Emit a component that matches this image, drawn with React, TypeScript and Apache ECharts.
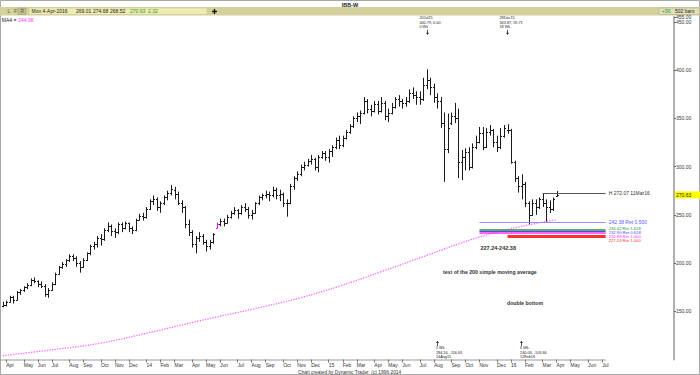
import React, { useEffect, useRef } from "react";
import * as echarts from "echarts";

const START_UTC = Date.UTC(2013, 2, 25);
const WEEK_COUNT = 192;
const LAST_LABEL_WEEK = 171;
const MONTHS = ["Jan", "Feb", "Mar", "Apr", "May", "Jun", "Jul", "Aug", "Sep", "Oct", "Nov", "Dec"];

// weekly [open, high, low, close]
const bars2013 = [
  [155, 160, 154, 157], [157, 161, 155, 160], [160, 166, 159, 165], [165, 166, 158, 162], [162, 171, 161, 170],
  [170, 173, 167, 172], [172, 176, 170, 175], [175, 179, 173, 177], [177, 184, 176, 182], [182, 185, 179, 181],
  [181, 182, 175, 178], [178, 181, 174, 176], [176, 178, 165, 168], [168, 174, 164, 172], [172, 180, 171, 178],
  [178, 190, 177, 189], [189, 197, 188, 196], [196, 201, 194, 199], [199, 204, 196, 203], [203, 209, 201, 207],
  [207, 209, 202, 205], [205, 207, 196, 200], [200, 202, 190, 196], [196, 205, 195, 203], [203, 211, 202, 210],
  [210, 219, 208, 218], [218, 222, 214, 220], [220, 228, 216, 226], [226, 230, 218, 225], [225, 236, 223, 234],
  [234, 242, 232, 238], [238, 240, 228, 233], [233, 236, 226, 232], [232, 242, 230, 240], [240, 242, 232, 236],
  [236, 243, 235, 241], [241, 242, 232, 236], [236, 238, 230, 234], [234, 246, 233, 245], [245, 251, 244, 249],
  [249, 252, 244, 248],
];
const bars2014 = [
  [248, 258, 246, 256], [256, 266, 255, 264], [264, 270, 260, 266], [266, 268, 254, 258], [258, 264, 252, 262],
  [262, 270, 260, 268], [268, 275, 265, 273], [273, 281, 270, 277], [276, 279, 266, 272], [272, 274, 260, 262],
  [262, 265, 252, 258], [258, 259, 236, 240], [240, 245, 228, 232], [232, 234, 216, 220], [220, 228, 210, 226],
  [226, 232, 222, 228], [228, 230, 219, 222], [222, 224, 212, 218], [218, 224, 214, 222], [222, 231, 220, 230],
  [236, 242, 236, 240], [240, 246, 238, 244], [244, 246, 238, 242], [242, 250, 241, 248], [248, 254, 246, 252],
  [252, 258, 250, 255], [255, 256, 246, 252], [252, 260, 250, 258], [258, 262, 253, 256], [256, 258, 246, 250],
  [250, 255, 245, 252], [252, 263, 251, 262], [262, 270, 260, 268], [268, 272, 265, 270], [270, 275, 267, 272],
  [272, 274, 264, 270], [270, 279, 268, 276], [276, 278, 266, 270], [270, 276, 264, 272], [272, 273, 258, 262],
  [262, 266, 248, 262], [262, 282, 261, 280], [280, 290, 276, 288], [288, 295, 285, 292], [292, 302, 290, 300],
  [300, 305, 296, 302], [302, 308, 300, 306], [306, 312, 302, 308], [308, 309, 296, 300], [300, 312, 294, 310],
  [310, 316, 308, 314], [314, 316, 306, 310],
];
const bars2015 = [
  [310, 318, 304, 316], [316, 322, 310, 320], [320, 330, 318, 328], [328, 332, 318, 322], [322, 332, 320, 330],
  [330, 338, 328, 336], [336, 344, 334, 342], [342, 352, 340, 350], [350, 356, 346, 352], [352, 358, 344, 355],
  [355, 372, 354, 368], [368, 370, 355, 360], [360, 364, 352, 358], [358, 368, 356, 365], [365, 368, 354, 358],
  [358, 372, 356, 366], [366, 368, 348, 352], [352, 360, 346, 356], [356, 366, 354, 362], [362, 372, 360, 370],
  [370, 374, 362, 368], [368, 370, 360, 366], [366, 372, 362, 368], [368, 380, 366, 376], [376, 382, 370, 374],
  [374, 378, 364, 372], [372, 378, 364, 370], [370, 392, 368, 385], [385, 400.79, 380, 390], [390, 392, 374, 382],
  [382, 386, 366, 372], [372, 376, 360, 368], [368, 372, 340, 345], [345, 356, 284.16, 318], [318, 355, 314, 340],
  [345, 356, 343, 352], [352, 366, 345, 350], [350, 360, 288, 305], [305, 317, 286, 310], [310, 319, 296, 315],
  [315, 320, 296, 300], [300, 324, 298, 320], [320, 332, 318, 325], [325, 341, 324, 335], [335, 341, 317, 320],
  [320, 340, 319, 336], [336, 343, 332, 338], [338, 339, 320, 325], [325, 332, 315, 320], [320, 340, 318, 332],
  [332, 343, 330, 340], [338, 343.87, 334, 338],
];
const bars2016 = [
  [338, 339, 303, 305], [305, 306, 284, 288], [288, 290, 273, 280], [280, 292, 266, 282], [282, 284, 258, 262],
  [262, 264, 240.03, 250], [250, 266, 249, 262], [262, 266, 250, 258], [258, 268, 256, 266], [266, 272.07, 258, 262],
  [262, 266, 243, 258], [258, 265, 252, 256], [256, 268, 254, 266], [269.01, 274.68, 268.52, 270.63],
];
const highlightWeek = 61;

// 200-period moving average readings [week index, value]
const maWeeks = [0, 14, 28, 42, 56, 71, 85, 96, 108, 121, 136, 148, 158];
const maValues = [104, 110, 117, 128, 140, 152, 164, 176, 191, 208, 227, 238, 244.96];

// horizontal levels
const levelPrices = [242.38, 234.42, 232.9, 230.88, 227.24];
const levelTexts = ["242.38 Ret 0.500", "234.42 Ret 1.618", "232.90 Ret 0.618", "230.88 Rtn 1.000", "227.24 Rtn 1.000"];
const levelColors = ["#8f8fff", "#2f8f2f", "#4a4aff", "#ff33ff", "#ff3030"];
const levelTextColors = ["#5a5aff", "#2f8f2f", "#4a4aff", "#ff33ff", "#ff3030"];
const levelWidths = [1, 1.5, 1, 1.5, 3];
const levelStart = [136, 136, 136, 136, 144];
const levelEnd = 172;
const highPrice = 272.07;
const highWeek = 154;

const FONT = "'Liberation Sans', Arial, sans-serif";

function weekDates(): string[] {
  const out: string[] = [];
  for (let i = 0; i < WEEK_COUNT; i++) {
    out.push(new Date(START_UTC + i * 7 * 86400000).toISOString().slice(0, 10));
  }
  return out;
}

export default function App() {
  const ref = useRef<HTMLDivElement>(null);
  useEffect(() => {
    const el = ref.current!;
    const chart = echarts.init(el, null, { renderer: "svg" });
    const dates = weekDates();
    const all = [...bars2013, ...bars2014, ...bars2015, ...bars2016];
    const bars = all.map((b, i) => [i, b[0], b[1], b[2], b[3], i === highlightWeek ? 1 : 0]);
    const last = all[all.length - 1];
    const isLabel = (index: number, value: string) => index <= LAST_LABEL_WEEK && +value.slice(8, 10) <= 7;

    const levelLines: any[] = levelPrices.map((p, k) => [
      {
        coord: [levelStart[k], p],
        lineStyle: { color: levelColors[k], width: levelWidths[k], type: "solid" },
        label: k === 0
          ? { show: true, position: "end", distance: 3, formatter: levelTexts[k], color: levelTextColors[k], fontSize: 5, fontFamily: FONT }
          : { show: false },
      },
      { coord: [levelEnd, p] },
    ]);
    levelLines.push([
      {
        coord: [highWeek, highPrice],
        lineStyle: { color: "#555", width: 1, type: "solid" },
        label: { show: true, position: "end", distance: 3, formatter: "H 272.07 11Mar16", color: "#333", fontSize: 5, fontFamily: FONT },
      },
      { coord: [levelEnd, highPrice] },
    ]);

    chart.setOption({
      animation: false,
      backgroundColor: "#fff",
      grid: { left: 1, right: 26, top: 17, bottom: 15.5 },
      xAxis: {
        type: "category",
        data: dates,
        boundaryGap: true,
        axisLine: { show: false },
        axisTick: { show: true, interval: isLabel, alignWithLabel: true, length: 3, lineStyle: { color: "#777" } },
        axisLabel: {
          interval: isLabel,
          formatter: (v: string) => (v.slice(5, 7) === "01" ? v.slice(2, 4) : MONTHS[+v.slice(5, 7) - 1]),
          fontSize: 5,
          fontFamily: FONT,
          color: "#333",
          align: "left",
          margin: 3,
        },
        splitLine: { show: false },
      },
      yAxis: {
        type: "value",
        position: "right",
        min: 100,
        max: 455,
        interval: 50,
        axisLine: { show: true, lineStyle: { color: "#b0b0b0", width: 2 } },
        axisTick: { show: true, length: 2, lineStyle: { color: "#666" } },
        axisLabel: { showMinLabel: false, fontSize: 5, fontFamily: FONT, color: "#333", margin: 2, formatter: (v: number) => v.toFixed(2) },
        splitLine: { show: false },
      },
      series: [
        {
          type: "line",
          data: maWeeks.map((w, k) => [w, maValues[k]]),
          showSymbol: false,
          smooth: 0.4,
          lineStyle: { color: "#ff66ff", width: 1.3, type: [1.3, 1.3] },
          z: 1,
          markLine: { silent: true, symbol: ["none", "none"], data: levelLines },
        },
        {
          type: "custom",
          z: 3,
          data: bars,
          encode: { x: 0, y: [1, 2, 3, 4] },
          renderItem: (params: any, api: any) => {
            const i = api.value(0);
            const h = api.coord([i, api.value(2)]);
            const l = api.coord([i, api.value(3)]);
            const o = api.coord([i, api.value(1)]);
            const c = api.coord([i, api.value(4)]);
            const x = Math.round(h[0]) + 0.5;
            const color = api.value(5) ? "#ff00ff" : "#1a1a1a";
            const st = { stroke: color, lineWidth: 1 };
            return {
              type: "group",
              children: [
                { type: "line", shape: { x1: x, y1: h[1], x2: x, y2: l[1] }, style: st },
                { type: "line", shape: { x1: x - 1.5, y1: Math.round(o[1]) + 0.5, x2: x, y2: Math.round(o[1]) + 0.5 }, style: st },
                { type: "line", shape: { x1: x, y1: Math.round(c[1]) + 0.5, x2: x + 1.5, y2: Math.round(c[1]) + 0.5 }, style: st },
              ],
            };
          },
        },
      ],
    });

    const px = (i: number, v: number) => chart.convertToPixel({ gridIndex: 0 }, [i, v]) as number[];
    const t = (x: number, y: number, text: string, extra: any = {}) => ({
      type: "text",
      x,
      y,
      silent: true,
      style: { text, fontSize: 5, fontFamily: FONT, fill: "#222", ...extra },
    });
    const arrow = (x: number, yTail: number, yHead: number) => {
      const ax = Math.round(x) + 0.5;
      const dir = yHead > yTail ? 1 : -1;
      return [
        { type: "line", silent: true, shape: { x1: ax, y1: yTail, x2: ax, y2: yHead - dir * 1.5 }, style: { stroke: "#333", lineWidth: 0.8 } },
        { type: "polygon", silent: true, shape: { points: [[ax - 1.6, yHead - dir * 2.2], [ax + 1.6, yHead - dir * 2.2], [ax, yHead]] }, style: { fill: "#333" } },
      ];
    };

    const base = px(0, 100);
    const endAxis = px(LAST_LABEL_WEEK + 0.5, 100);
    const peak = px(121, 400.79);
    const top2 = px(144, 343.87);
    const low1 = px(126, 284.16);
    const low2 = px(150, 240.03);
    const lastY = px(158, last[3])[1];
    const band = px(136, 242.38);

    // the four tightly packed level labels, stacked so they stay legible
    const packedTop = px(levelEnd, levelPrices[1])[1] - 3.5;
    const levelLabelEls = [1, 2, 3, 4].map((k, n) =>
      t(px(levelEnd, levelPrices[k])[0] + 3, packedTop + n * 4.1, levelTexts[k], { fontSize: 4.2, fill: levelTextColors[k] })
    );
    const noteStyle = { fontSize: 3.8, lineHeight: 4.3 };

    const g: any[] = [
      { type: "rect", shape: { x: 0.5, y: 0.5, width: 699, height: 374 }, style: { fill: "none", stroke: "#a8a8a8", lineWidth: 1 }, silent: true },
      t(350, 1.5, "IBB-W", { textAlign: "center", fontWeight: "bold", fontSize: 5.5 }),
      { type: "rect", shape: { x: 0, y: 7, width: 700, height: 8.5 }, style: { fill: "#d4d19c" }, silent: true },
      { type: "rect", shape: { x: 18, y: 8, width: 8, height: 6.5 }, style: { fill: "#c4c08a", stroke: "#9a9670", lineWidth: 0.5 }, silent: true },
      t(7.5, 8.8, "L", { fill: "#5a5a3a" }),
      t(14, 8.8, "F", { fill: "#5a5a3a" }),
      t(20.5, 8.8, "R", { fill: "#5a5a3a" }),
      { type: "rect", shape: { x: 29, y: 8, width: 178, height: 6.5 }, style: { fill: "#efebb4", stroke: "#c8c490", lineWidth: 0.5 }, silent: true },
      t(31.5, 8.8, "Mon 4-Apr-2016"),
      t(76, 8.8, "269.01"),
      t(93, 8.8, "274.68"),
      t(110, 8.8, "268.52"),
      t(130, 8.8, "270.63", { fill: "#1f9a1f" }),
      t(148, 8.8, "2.32", { fill: "#1f9a1f" }),
      { type: "rect", silent: true, shape: { x: 212, y: 10.8, width: 5, height: 1.4 }, style: { fill: "#111" } },
      { type: "rect", silent: true, shape: { x: 213.8, y: 9, width: 1.4, height: 5 }, style: { fill: "#111" } },
      { type: "rect", shape: { x: 659, y: 8, width: 40.5, height: 6.5 }, style: { fill: "#e2e0bc", stroke: "#a8a680", lineWidth: 0.5 }, silent: true },
      t(662, 8.8, "+56", { fill: "#1f9a1f" }),
      t(675, 8.8, "502 bars"),
      t(1.8, 17.2, "MA4 ="),
      t(18.3, 17.2, "244.96", { fill: "#ff33ff" }),
      { type: "line", shape: { x1: 0, y1: base[1] + 0.5, x2: endAxis[0], y2: base[1] + 0.5 }, style: { stroke: "#9a9a9a", lineWidth: 1 }, silent: true },
      t(peak[0] - 7.5, 16.3, "20Jul15\n400.79, 0.00\n0 Wk", noteStyle),
      ...arrow(peak[0], 29.8, 35),
      t(top2[0] - 8, 16.3, "28Dec15\n343.87, 59.71\n18 Wk", noteStyle),
      ...arrow(top2[0] - 1, 29.8, 35),
      ...arrow(low1[0] - 7.5, 346, 340.8),
      t(low1[0] - 8.5, 346.2, "5 Wk\n284.16, -116.63\n24Aug15", noteStyle),
      ...arrow(low2[0] - 7.5, 346, 340.8),
      t(low2[0] - 8.5, 346.2, "6 Wk\n240.03, -103.84\n12Feb16", noteStyle),
      ...levelLabelEls,
      { type: "rect", shape: { x: 673, y: lastY - 3.5, width: 27, height: 7 }, style: { fill: "#ffff00" }, silent: true },
      t(676, lastY - 2.6, last[3].toFixed(2)),
      t(band[0] + 1, 244.5, "227.24-242.38", { fontSize: 5.5, fontWeight: "bold", fill: "#333" }),
      t(443, 269.5, "test of the 200 simple moving average", { fontSize: 5.2, fontWeight: "bold", fill: "#333" }),
      t(507, 300, "double bottom", { fontSize: 5.2, fontWeight: "bold", fill: "#333" }),
      t(298, 369.5, "Chart created by Dynamic Trader  (c) 1996-2014", { fontSize: 4.8, fill: "#333" }),
    ];
    chart.setOption({ graphic: g });
    return () => chart.dispose();
  }, []);
  return <div ref={ref} style={{ position: "fixed", left: 0, top: 0, width: 700, height: 375, background: "#fff" }} />;
}
